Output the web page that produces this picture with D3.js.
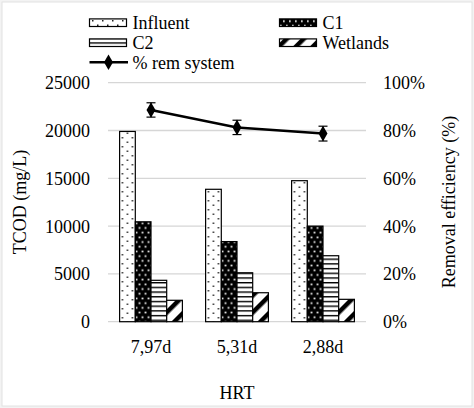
<!DOCTYPE html>
<html>
<head>
<meta charset="utf-8">
<script src="https://cdn.jsdelivr.net/npm/d3@7"></script>
<style>
  body { margin: 0; background: #f3f3f3; }
</style>
</head>
<body>
<svg width="474" height="408"></svg>
<script>
var categories = ["7,97d", "5,31d", "2,88d"];
var seriesNames = ["Influent", "C1", "C2", "Wetlands"];
var influent = [19900, 13850, 14750];
var c1 = [10450, 8380, 10000];
var c2 = [4330, 5120, 6900];
var wetlands = [2240, 3030, 2340];
var remSystem = [0.886, 0.813, 0.787];
var remError = [0.030, 0.030, 0.031];
var leftTicks = [0, 5000, 10000, 15000, 20000, 25000];
var rightTicks = [0, 0.2, 0.4, 0.6, 0.8, 1.0];

var svg = d3.select("svg"),
    width = +svg.attr("width"),
    height = +svg.attr("height");

var fontStack = "'Liberation Serif', 'Times New Roman', Times, 'Nimbus Roman', 'Nimbus Roman No9 L', Tinos, 'DejaVu Serif', 'Noto Serif', FreeSerif, serif";
svg.style("font-family", fontStack);

var fs = 18;
var margin = { left: 108, right: 108, top: 82.7, bottom: 86.3 };
var plotW = width - margin.left - margin.right,
    plotH = height - margin.top - margin.bottom;

svg.append("rect")
    .attr("x", 2).attr("y", 2)
    .attr("width", width - 4).attr("height", height - 4)
    .attr("fill", "#fff")
    .attr("stroke", "#e2e2e2");

var defs = svg.append("defs");

// influent: sparse dots
var p = defs.append("pattern").attr("id", "pInfluent")
    .attr("patternUnits", "userSpaceOnUse").attr("width", 10).attr("height", 9);
p.append("rect").attr("width", 10).attr("height", 9).attr("fill", "#fff");
p.append("rect").attr("x", 2).attr("y", 2).attr("width", 1.5).attr("height", 1.5).attr("fill", "#222");
p.append("rect").attr("x", 7).attr("y", 6.5).attr("width", 1.5).attr("height", 1.5).attr("fill", "#222");

// C1: black with white dots
p = defs.append("pattern").attr("id", "pC1")
    .attr("patternUnits", "userSpaceOnUse").attr("width", 6).attr("height", 9.4);
p.append("rect").attr("width", 6).attr("height", 9.4).attr("fill", "#000");
p.append("rect").attr("x", 1).attr("y", 1.5).attr("width", 1.7).attr("height", 1.7).attr("fill", "#fff");
p.append("rect").attr("x", 4).attr("y", 6.2).attr("width", 1.7).attr("height", 1.7).attr("fill", "#fff");

// C2: horizontal lines
p = defs.append("pattern").attr("id", "pC2")
    .attr("patternUnits", "userSpaceOnUse").attr("width", 8).attr("height", 4.7);
p.append("rect").attr("width", 8).attr("height", 4.7).attr("fill", "#fff");
p.append("rect").attr("y", 0).attr("width", 8).attr("height", 1.4).attr("fill", "#000");

// Wetlands: wide upward diagonal
p = defs.append("pattern").attr("id", "pWet")
    .attr("patternUnits", "userSpaceOnUse").attr("width", 12).attr("height", 12)
    .attr("patternTransform", "rotate(45)");
p.append("rect").attr("width", 12).attr("height", 12).attr("fill", "#fff");
p.append("rect").attr("x", 0).attr("width", 4.5).attr("height", 12).attr("fill", "#000");

var fills = ["url(#pInfluent)", "url(#pC1)", "url(#pC2)", "url(#pWet)"];
var seriesValues = [influent, c1, c2, wetlands];

var x0 = d3.scaleBand().domain(categories).range([margin.left, margin.left + plotW]).paddingInner(0.27).paddingOuter(0.135);
var x1 = d3.scaleBand().domain(seriesNames).range([0, x0.bandwidth()]);
var y = d3.scaleLinear().domain([0, 25000]).range([margin.top + plotH, margin.top]);
var yR = d3.scaleLinear().domain([0, 1]).range([margin.top + plotH, margin.top]);
var xc = d3.scalePoint().domain(categories).range([margin.left, margin.left + plotW]).padding(0.5);

// gridlines
svg.append("g").selectAll("line")
    .data(leftTicks)
    .enter().append("line")
    .attr("x1", margin.left).attr("x2", margin.left + plotW)
    .attr("y1", function(d) { return y(d); })
    .attr("y2", function(d) { return y(d); })
    .attr("stroke", "#d6d6d6")
    .attr("stroke-width", 1.3);

// left axis labels
svg.append("g").selectAll("text")
    .data(leftTicks)
    .enter().append("text")
    .attr("x", 90)
    .attr("y", function(d) { return y(d) + 6.5; })
    .attr("text-anchor", "end")
    .attr("font-size", fs)
    .text(function(d) { return d; });

// right axis labels
svg.append("g").selectAll("text")
    .data(rightTicks)
    .enter().append("text")
    .attr("x", 383)
    .attr("y", function(d) { return yR(d) + 6.5; })
    .attr("font-size", fs)
    .text(d3.format(".0%"));

// bars
var groups = svg.append("g").selectAll("g")
    .data(categories)
    .enter().append("g")
    .attr("transform", function(d) { return "translate(" + x0(d) + ",0)"; });

groups.selectAll("rect")
    .data(function(d, i) { return seriesNames.map(function(s, j) { return { s: s, v: seriesValues[j][i], j: j }; }); })
    .enter().append("rect")
    .attr("x", function(d) { return x1(d.s); })
    .attr("width", x1.bandwidth())
    .attr("y", function(d) { return y(d.v); })
    .attr("height", function(d) { return y(0) - y(d.v); })
    .attr("fill", function(d) { return fills[d.j]; })
    .attr("stroke", "#000")
    .attr("stroke-width", 1.2);

// x labels
svg.append("g").selectAll("text")
    .data(categories)
    .enter().append("text")
    .attr("x", function(d) { return xc(d); })
    .attr("y", 353)
    .attr("text-anchor", "middle")
    .attr("font-size", fs)
    .text(function(d) { return d; });

// line series
var lineData = categories.map(function(c, i) { return { c: c, v: remSystem[i], e: remError[i] }; });
var line = d3.line()
    .x(function(d) { return xc(d.c); })
    .y(function(d) { return yR(d.v); });

svg.append("path")
    .datum(lineData)
    .attr("d", line)
    .attr("fill", "none")
    .attr("stroke", "#000")
    .attr("stroke-width", 2.5);

var eb = svg.append("g").selectAll("g")
    .data(lineData)
    .enter().append("g");
eb.append("line")
    .attr("x1", function(d) { return xc(d.c); }).attr("x2", function(d) { return xc(d.c); })
    .attr("y1", function(d) { return yR(d.v - d.e); }).attr("y2", function(d) { return yR(d.v + d.e); })
    .attr("stroke", "#000").attr("stroke-width", 1.2);
[-1, 1].forEach(function(s) {
    eb.append("line")
        .attr("x1", function(d) { return xc(d.c) - 4.5; }).attr("x2", function(d) { return xc(d.c) + 4.5; })
        .attr("y1", function(d) { return yR(d.v + s * d.e); }).attr("y2", function(d) { return yR(d.v + s * d.e); })
        .attr("stroke", "#000").attr("stroke-width", 1.2);
});

var diamond = d3.symbol().type(d3.symbolDiamond).size(70);
svg.append("g").selectAll("path")
    .data(lineData)
    .enter().append("path")
    .attr("d", diamond)
    .attr("transform", function(d) { return "translate(" + xc(d.c) + "," + yR(d.v) + ")"; })
    .attr("fill", "#000");

// axis titles
svg.append("text")
    .attr("transform", "translate(26,202) rotate(-90)")
    .attr("text-anchor", "middle")
    .attr("font-size", fs)
    .text("TCOD (mg/L)");

svg.append("text")
    .attr("transform", "translate(455,202) rotate(-90)")
    .attr("text-anchor", "middle")
    .attr("font-size", fs)
    .text("Removal efficiency (%)");

svg.append("text")
    .attr("x", xc(categories[1]))
    .attr("y", 399)
    .attr("text-anchor", "middle")
    .attr("font-size", fs)
    .text("HRT");

// legend
var legendItems = [
    { name: "Influent", fill: fills[0], x: 89.5, y: 22.7 },
    { name: "C1", fill: fills[1], x: 279.5, y: 22.7 },
    { name: "C2", fill: fills[2], x: 89.5, y: 42.7 },
    { name: "Wetlands", fill: fills[3], x: 279.5, y: 42.7 }
];
var lg = svg.append("g").selectAll("g")
    .data(legendItems)
    .enter().append("g");
lg.append("rect")
    .attr("x", function(d) { return d.x; })
    .attr("y", function(d) { return d.y - 3.8; })
    .attr("width", 37).attr("height", 7.6)
    .attr("fill", function(d) { return d.fill; })
    .attr("stroke", "#000").attr("stroke-width", 1.2);
lg.append("text")
    .attr("x", function(d) { return d.x + 43; })
    .attr("y", function(d) { return d.y + 6.5; })
    .attr("font-size", fs)
    .text(function(d) { return d.name; });

svg.append("line")
    .attr("x1", 89.5).attr("x2", 128)
    .attr("y1", 62.3).attr("y2", 62.3)
    .attr("stroke", "#000").attr("stroke-width", 2.5);
svg.append("path")
    .attr("d", diamond)
    .attr("transform", "translate(108.5,62.3)")
    .attr("fill", "#000");
svg.append("text")
    .attr("x", 132.5).attr("y", 62.3 + 6.5)
    .attr("font-size", fs)
    .text("% rem system");
</script>
</body>
</html>
